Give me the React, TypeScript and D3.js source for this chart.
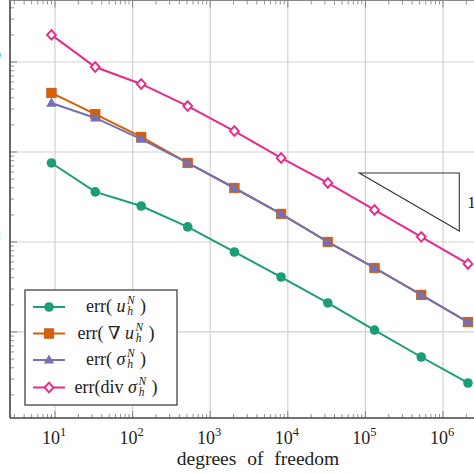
import React from "react";
import * as d3 from "d3";

const dofs = [9, 33, 129, 513, 2049, 8193, 32769, 131073, 524289, 2097153];
const errU = [0.0755, 0.036, 0.0251, 0.0147, 0.00774, 0.00408, 0.0021, 0.00105, 0.000527, 0.000271];
const errGradU = [0.453, 0.264, 0.147, 0.0755, 0.0398, 0.0205, 0.01, 0.00514, 0.00258, 0.00129];
const errSigma = [0.35, 0.239, 0.139, 0.0755, 0.0398, 0.0205, 0.01, 0.00514, 0.00258, 0.00129];
const errDivSigma = [2.0, 0.88, 0.57, 0.324, 0.171, 0.0858, 0.0453, 0.0227, 0.0114, 0.0057];

const xTickPowers = [1, 2, 3, 4, 5, 6];
const yTickPowers = [0, -1, -2, -3];
const yLabelPowers = [0, -2];

const colors = ["#1b9e77", "#d95f02", "#7570b3", "#e7298a"];

// slope triangle (rate 1/2)
const triX = [10 ** 4.92, 10 ** 6.21];
const triYTop = 10 ** -1.233;

const W = 474;
const H = 474;
const serif = "Liberation Serif, DejaVu Serif, serif";
const fontStyle = { fontFamily: serif };

export default function App() {
  const xLo = 0.42;
  const xHi = 6.9;
  const decX = 77.6;
  const x = d3.scaleLog().domain([10 ** xLo, 10 ** xHi]).range([10, 10 + decX * (xHi - xLo)]);
  const y = d3.scaleLog().domain([10 ** -3.956, 10 ** 0.689]).range([418, 0]);

  const left = 10;
  const bottom = 418;
  const top = 0.5;

  const minorX: number[] = [];
  for (let p = 0; p <= 7; p++) for (let k = 2; k <= 9; k++) {
    const v = k * 10 ** p;
    if (x(v) > left && x(v) < W) minorX.push(v);
  }
  const minorY: number[] = [];
  for (let p = -5; p <= 1; p++) for (let k = 2; k <= 9; k++) {
    const v = k * 10 ** p;
    if (y(v) > 0 && y(v) < bottom) minorY.push(v);
  }

  const data = [errU, errGradU, errSigma, errDivSigma];
  const line = d3.line<number>().x((_, i) => x(dofs[i])).y((v) => y(v));

  const marker = (s: number, cx: number, cy: number, key: string) => {
    const c = colors[s];
    if (s === 0) return <circle key={key} cx={cx} cy={cy} r={4.8} fill={c} />;
    if (s === 1) return <rect key={key} x={cx - 4.8} y={cy - 4.8} width={9.6} height={9.6} fill={c} stroke="#b9551e" strokeWidth={0.6} />;
    if (s === 2) return <path key={key} d={`M${cx},${cy - 5.5}L${cx + 5.2},${cy + 3.6}L${cx - 5.2},${cy + 3.6}Z`} fill={c} />;
    return <path key={key} d={`M${cx},${cy - 4.8}L${cx + 4.4},${cy}L${cx},${cy + 4.8}L${cx - 4.4},${cy}Z`} fill="white" stroke={c} strokeWidth={1.9} />;
  };

  const legendRows = [
    { pre: "err(", sym: "u" },
    { pre: "err( ∇", sym: "u" },
    { pre: "err(", sym: "σ" },
    { pre: "err(div", sym: "σ" },
  ];
  const legendY = [307, 333.5, 360, 387.5];

  const triYBot = triYTop / Math.sqrt(triX[1] / triX[0]);

  return (
    <svg width={W} height={H} style={{ position: "absolute", left: 0, top: 0, background: "white" }}>
      <rect x={0} y={0} width={W} height={H} fill="white" />
      {/* grid */}
      {xTickPowers.map((p) => (
        <line key={"gx" + p} x1={x(10 ** p)} x2={x(10 ** p)} y1={top} y2={bottom} stroke="#d2d2d2" strokeWidth={1.2} />
      ))}
      {yTickPowers.map((p) => (
        <line key={"gy" + p} x1={left} x2={W} y1={y(10 ** p)} y2={y(10 ** p)} stroke="#d2d2d2" strokeWidth={1.2} />
      ))}
      {/* minor ticks */}
      {minorX.map((v, i) => (
        <g key={"mx" + i}>
          <line x1={x(v)} x2={x(v)} y1={bottom} y2={bottom - 4} stroke="#777" strokeWidth={0.8} />
          <line x1={x(v)} x2={x(v)} y1={top} y2={top + 4} stroke="#777" strokeWidth={0.8} />
        </g>
      ))}
      {xTickPowers.map((p) => (
        <g key={"Mx" + p}>
          <line x1={x(10 ** p)} x2={x(10 ** p)} y1={bottom} y2={bottom - 7} stroke="#777" strokeWidth={0.9} />
          <line x1={x(10 ** p)} x2={x(10 ** p)} y1={top} y2={top + 7} stroke="#777" strokeWidth={0.9} />
        </g>
      ))}
      {minorY.map((v, i) => (
        <line key={"my" + i} x1={left} x2={left + 4} y1={y(v)} y2={y(v)} stroke="#777" strokeWidth={0.8} />
      ))}
      {yTickPowers.map((p) => (
        <line key={"My" + p} x1={left} x2={left + 7} y1={y(10 ** p)} y2={y(10 ** p)} stroke="#777" strokeWidth={0.9} />
      ))}
      {/* frame */}
      <line x1={left} x2={W} y1={bottom} y2={bottom} stroke="#444" strokeWidth={1.6} />
      <line x1={left} x2={left} y1={0} y2={bottom} stroke="#444" strokeWidth={1.6} />
      <line x1={left} x2={W} y1={top} y2={top} stroke="#888" strokeWidth={1.2} />

      {/* slope triangle */}
      <path
        d={`M${x(triX[0])},${y(triYTop)}L${x(triX[1])},${y(triYTop)}L${x(triX[1])},${y(triYBot)}Z`}
        fill="none"
        stroke="#333"
        strokeWidth={1.1}
      />
      <text x={x(triX[1]) + 8} y={(y(triYTop) + y(triYBot)) / 2 + 6} fontSize={17} fill="#222" style={fontStyle}>1</text>

      {/* series */}
      {data.map((vals, s) => (
        <g key={"s" + s}>
          <path d={line(vals) || ""} fill="none" stroke={colors[s]} strokeWidth={2} />
          {vals.map((v, i) => marker(s, x(dofs[i]), y(v), "m" + s + "-" + i))}
        </g>
      ))}

      {/* x tick labels */}
      {xTickPowers.map((p) => (
        <text key={"xl" + p} x={x(10 ** p) - 1} y={444} fontSize={18} textAnchor="middle" fill="#222" style={fontStyle}>
          10<tspan fontSize={12.5} dy={-8}>{p}</tspan>
        </text>
      ))}
      {/* y tick labels (mostly cut off) */}
      {yLabelPowers.map((p) => (
        <text key={"yl" + p} x={0.8} y={y(10 ** p) + 5} fontSize={18} textAnchor="end" fill="#222" style={fontStyle}>
          10<tspan fontSize={12.5} dy={-8}>{"−" + Math.abs(p)}</tspan>
        </text>
      ))}
      <text x={258} y={465} fontSize={19.5} textAnchor="middle" fill="#222" wordSpacing={6} style={fontStyle}>
        degrees of freedom
      </text>

      {/* legend */}
      <rect x={25} y={290} width={152} height={115} fill="white" stroke="#444" strokeWidth={1.3} />
      {legendRows.map((r, i) => {
        const ly = legendY[i];
        return (
          <g key={"lg" + i}>
            <line x1={33} x2={65} y1={ly} y2={ly} stroke={colors[i]} strokeWidth={2} />
            {marker(i, 49, ly, "lm" + i)}
            <text x={116} y={ly + 5} fontSize={18} textAnchor="middle" fill="#222" style={fontStyle}>
              <tspan>{r.pre} </tspan>
              <tspan fontStyle="italic">{r.sym}</tspan>
              <tspan fontSize={11.5} fontStyle="italic" dx={1.5} dy={-8}>N</tspan>
              <tspan fontSize={11.5} fontStyle="italic" dx={-7.5} dy={11}>h</tspan>
              <tspan dx={2.5} dy={-3}> )</tspan>
            </text>
          </g>
        );
      })}
    </svg>
  );
}
